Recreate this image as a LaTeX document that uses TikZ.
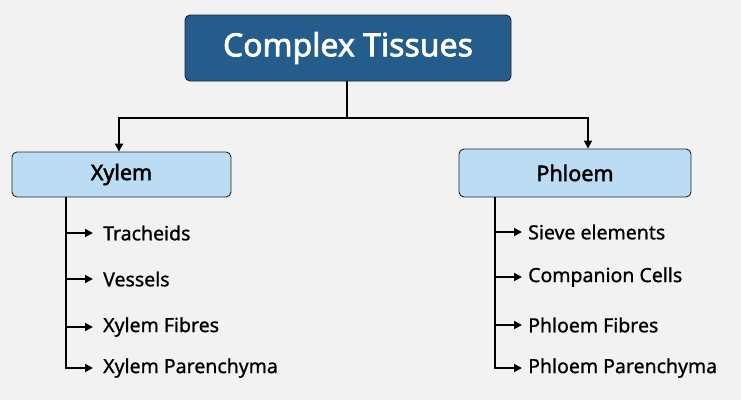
\documentclass[tikz,border=0pt]{standalone}
\usepackage{fontspec}
\setmainfont{Noto Sans}
\newfontfamily\semib[FakeBold=2.2]{Noto Sans}
\newfontfamily\medf[FakeBold=0.9]{Noto Sans}
\usetikzlibrary{arrows.meta}
\definecolor{bgc}{HTML}{F2F2F2}
\definecolor{topblue}{HTML}{245C8C}
\definecolor{lightblue}{HTML}{BBDCF3}
\tikzset{
  topbox/.style={draw=black!85, line width=0.9pt, fill=topblue, rounded corners=5pt, inner sep=0pt},
  subbox/.style={draw=black!85, line width=0.9pt, fill=lightblue, rounded corners=5pt, inner sep=0pt},
  conn/.style={line width=1.8pt, black},
  arr/.style={conn, -{Triangle[length=8pt,width=8pt]}},
  item/.style={anchor=west, inner sep=0pt, font=\medf\fontsize{19.5}{22}\selectfont},
}
\begin{document}
\begin{tikzpicture}[x=1pt,y=-1pt]
\fill[bgc] (0,0) rectangle (741,400);
\useasboundingbox (0,0) rectangle (741,400);
% boxes
\node[topbox, minimum width=326pt, minimum height=66pt, text=white, font=\semib\fontsize{32}{36}\selectfont] (top) at (348,48) {Complex Tissues};
\node[subbox, minimum width=219pt, minimum height=45pt, font=\semib\fontsize{21.5}{24}\selectfont] (xylem) at (121.5,174.5) {Xylem};
\node[subbox, minimum width=232pt, minimum height=48pt, font=\semib\fontsize{21.5}{24}\selectfont] (phloem) at (575,173) {Phloem};
% top connectors
\coordinate (j) at (347,118);
\coordinate (jx) at (119,118);
\coordinate (jp) at (588,118);
\draw[conn] (top.south -| j) -- (j);
\draw[conn, line cap=rect] (jx) -- (jp);
\draw[arr] (jx) -- (jx |- xylem.north);
\draw[arr] (jp) -- (jp |- phloem.north);
% xylem items
\node[item] (x1) at (103,233) {Tracheids};
\node[item] (x2) at (103,279) {Vessels};
\node[item] (x3) at (103,327) {Xylem Fibres};
\node[item] (x4) at (103,368) {Xylem Parenchyma};
\coordinate (xs) at (66,197);
\draw[conn] (xs) -- (xs |- x4.west) -- ++(10,0);
\foreach \n in {x1,x2,x3,x4}{
  \draw[arr] (xs |- \n.west) -- ([xshift=-10pt]\n.west);
}
% phloem items
\node[item] (p1) at (528,232) {Sieve elements};
\node[item] (p2) at (528,277) {Companion Cells};
\node[item] (p3) at (528,325) {Phloem Fibres};
\node[item] (p4) at (528,368) {Phloem Parenchyma};
\coordinate (ps) at (495,197);
\draw[conn] (ps) -- (ps |- p4.west) -- ++(10,0);
\foreach \n in {p1,p2,p3,p4}{
  \draw[arr] (ps |- \n.west) -- ([xshift=-6pt]\n.west);
}
\end{tikzpicture}
\end{document}
